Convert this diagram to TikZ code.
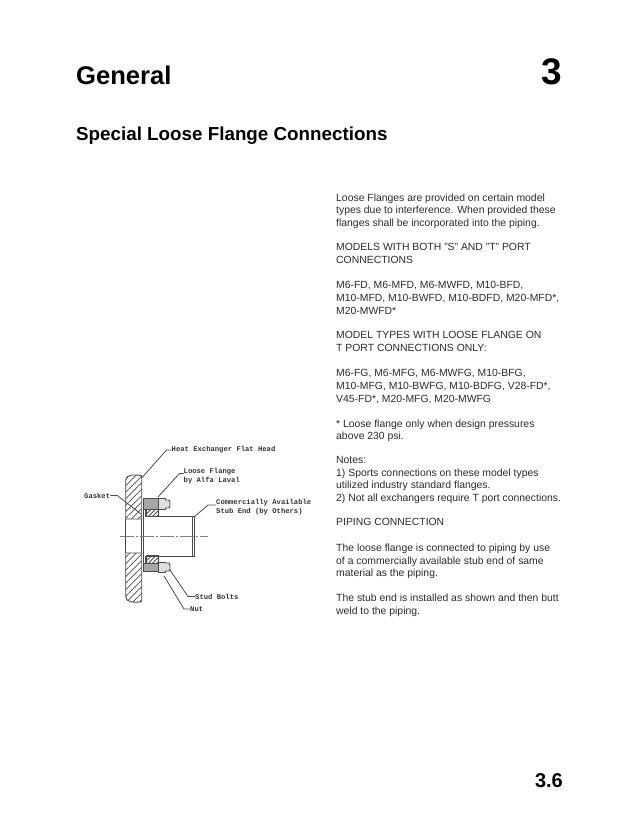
\documentclass[tikz,border=0pt]{standalone}
\usepackage{xcolor}
\usepackage{fontspec}
\usetikzlibrary{patterns.meta}
\setmainfont{Liberation Sans}
\newfontfamily\drawfont{Liberation Mono}
\definecolor{inktext}{HTML}{2A2A2A}
\definecolor{inkdraw}{HTML}{4A4A4A}
\definecolor{inklabel}{HTML}{333333}
\tikzset{
  parrafo/.style={anchor=north west, inner sep=0pt, align=left, text=inktext, font=\fontsize{10.4}{12.55}\selectfont},
  etiqueta/.style={anchor=west, inner sep=0pt, align=left, text=inklabel, font=\drawfont\bfseries\fontsize{7.2}{8.8}\selectfont},
  guia/.style={draw=inkdraw, line width=.8pt},
  pieza/.style={draw=inkdraw, line width=.9pt},
  rayado/.style={pieza, pattern={Lines[angle=45, distance=4.6pt, line width=.8pt]}, pattern color=inkdraw},
  rayadobrida/.style={pieza, pattern={Lines[angle=45, distance=3pt, line width=.8pt]}, pattern color=inkdraw},
  perno/.style={pieza, fill=gray!70}
}
\begin{document}
\begin{tikzpicture}[x=1pt, y=-1pt]
  \useasboundingbox (0,0) rectangle (638,826);
  % Encabezados
  \node[anchor=base west, inner sep=0pt, font=\bfseries\fontsize{25.6}{30}\selectfont, text=black] (titulo) at (76,84.5) {General};
  \node[anchor=base east, inner sep=0pt, font=\bfseries\fontsize{37}{40}\selectfont, text=black] (capitulo) at (562,84.5) {3};
  \node[anchor=base west, inner sep=0pt, font=\bfseries\fontsize{18.8}{22}\selectfont, text=black] (seccion) at (76,141) {Special Loose Flange Connections};
  \node[anchor=base east, inner sep=0pt, font=\bfseries\fontsize{20}{24}\selectfont, text=black] (pagina) at (563,787) {3.6};
  % Columna de texto
  \node[parrafo] (p1) at (336,193.5) {Loose Flanges are provided on certain model\\types due to interference. When provided these\\flanges shall be incorporated into the piping.};
  \node[parrafo] (p2) at (336,243.5) {MODELS WITH BOTH "S" AND "T" PORT\\CONNECTIONS};
  \node[parrafo] (p3) at (336,281.5) {M6-FD, M6-MFD, M6-MWFD, M10-BFD,\\M10-MFD, M10-BWFD, M10-BDFD, M20-MFD*,\\M20-MWFD*};
  \node[parrafo] (p4) at (336,331.5) {MODEL TYPES WITH LOOSE FLANGE ON\\T PORT CONNECTIONS ONLY:};
  \node[parrafo] (p5) at (336,369.5) {M6-FG, M6-MFG, M6-MWFG, M10-BFG,\\M10-MFG, M10-BWFG, M10-BDFG, V28-FD*,\\V45-FD*, M20-MFG, M20-MWFG};
  \node[parrafo] (p6) at (336,419.5) {* Loose flange only when design pressures\\above 230 psi.};
  \node[parrafo] (p7) at (336,456.5) {Notes:\\1) Sports connections on these model types\\utilized industry standard flanges.\\2) Not all exchangers require T port connections.};
  \node[parrafo] (p8) at (336,518.5) {PIPING CONNECTION};
  \node[parrafo] (p9) at (336,544) {The loose flange is connected to piping by use\\of a commercially available stub end of same\\material as the piping.};
  \node[parrafo] (p10) at (336,594) {The stub end is installed as shown and then butt\\weld to the piping.};
  % Cabezal
  \draw[rayado] (141.7,519) -- (141.7,475.7) .. controls (133,474) and (126,475) .. (125.7,480)
    -- (125.7,519) -- cycle;
  \draw[rayado] (141.7,553) -- (141.7,601.7) .. controls (133,603) and (126,602) .. (125.7,597)
    -- (125.7,553) -- cycle;
  \draw[pieza] (125.7,519) -- (125.7,553) (141.7,519) -- (141.7,553);
  % Extremo y brida
  \draw[pieza] (194.3,516.7) -- (145,516.7) -- (145,509) -- (143.5,509) -- (143.5,563) -- (145,563) -- (145,556) -- (194.3,556) -- cycle;
  \draw[pieza] (192.3,516.7) -- (192.3,556);
  \draw[rayadobrida] (146.7,509) rectangle (158,516.7);
  \draw[rayadobrida] (146.7,555) rectangle (158,563);
  % Pernos superior e inferior
  \draw[perno] (143.5,498.5) rectangle (158,509);
  \draw[perno] (143.5,563) rectangle (158,571.5);
  \draw[pieza, fill=gray!25] (158,498.5) rectangle (165,509);
  \draw[pieza, fill=gray!25] (158,562) rectangle (165,572.5);
  \draw[pieza, fill=gray!25] (165,500) -- (169,500) -- (170,502) -- (170,506) -- (169,508) -- (165,508);
  \draw[pieza, fill=gray!25] (165,563) -- (169,563) -- (170,565) -- (170,569) -- (169,571) -- (165,571);
  \draw[gray, line width=.7pt, dash pattern=on 14pt off 2pt on 2pt off 2pt] (120,536) -- (207.7,536);
  % Puntos de las guias
  \coordinate (cabezal) at (141.7,478);
  \coordinate (brida) at (158,497);
  \coordinate (junta) at (141,514);
  \coordinate (extremo) at (194,517);
  \coordinate (perno) at (170,570);
  \coordinate (tuerca) at (164,576);
  % Etiquetas
  \node[etiqueta] (eCabezal) at (171.5,450) {Heat Exchanger Flat Head};
  \node[etiqueta] (eBrida) at (183.5,476) {Loose Flange\\by Alfa Laval};
  \node[etiqueta] (eJunta) at (84,495.5) {Gasket};
  \node[etiqueta] (eExtremo) at (216,507) {Commercially Available\\Stub End (by Others)};
  \node[etiqueta] (ePerno) at (195,596.5) {Stud Bolts};
  \node[etiqueta] (eTuerca) at (190,609) {Nut};
  % Guias
  \draw[guia] (eCabezal.west) -- ++(-5,0) -- (cabezal);
  \draw[guia] (eBrida.west |- 0,473.5) -- ++(-4,0) -- (brida);
  \draw[guia] (eJunta.east) -- ++(7,0) -- (junta);
  \draw[guia] (eExtremo.west |- 0,505) -- ++(-8,0) -- (extremo);
  \draw[guia] (ePerno.west) -- ++(-7,0) -- (perno);
  \draw[guia] (eTuerca.west) -- ++(-6,0) -- (tuerca);
\end{tikzpicture}
\end{document}
